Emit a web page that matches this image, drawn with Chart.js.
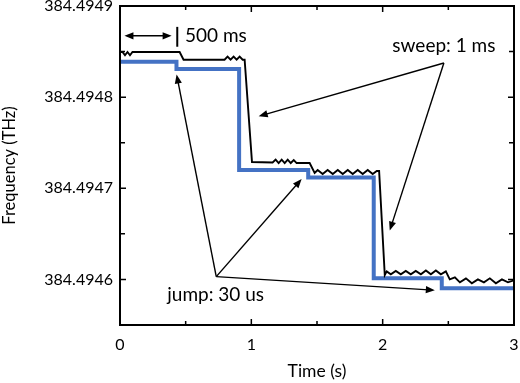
<!DOCTYPE html>
<html><head><meta charset="utf-8">
<script src="https://cdn.jsdelivr.net/npm/chart.js@4/dist/chart.umd.min.js"></script>
<style>html,body{margin:0;padding:0;background:#fff}#wrap{width:520px;height:383px}</style>
</head><body><div id="wrap"><canvas id="c" width="520" height="383"></canvas></div>
<script>
// Measured laser frequency (black trace)
const measTime = [0,0.019,0.038,0.057,0.076,0.095,0.454,0.484,0.796,0.819,0.842,0.865,0.888,0.911,0.934,0.949,
  1.005,1.162,1.185,1.208,1.231,1.254,1.277,1.300,1.323,1.345,1.444,1.482,1.505,1.543,1.581,1.620,1.658,1.696,
  1.734,1.772,1.810,1.848,1.886,1.924,1.955,1.973,2.016,2.031,2.062,2.100,2.138,2.176,2.214,2.252,2.291,2.329,
  2.367,2.405,2.443,2.481,2.511,2.550,2.588,2.634,2.679,2.725,2.771,2.816,2.862,2.908,2.954,3.0];
const measFreq = [384.4948495,384.4948495,384.4948460,384.4948495,384.4948460,384.4948495,384.4948495,384.4948411,
  384.4948411,384.4948444,384.4948411,384.4948444,384.4948411,384.4948444,384.4948411,384.4948411,
  384.4947288,384.4947283,384.4947315,384.4947277,384.4947315,384.4947277,384.4947315,384.4947277,384.4947310,
  384.4947277,384.4947277,384.4947168,384.4947201,384.4947157,384.4947201,384.4947157,384.4947201,384.4947157,
  384.4947201,384.4947157,384.4947201,384.4947157,384.4947201,384.4947157,384.4947190,384.4947190,
  384.4946048,384.4946088,384.4946056,384.4946094,384.4946056,384.4946094,384.4946056,384.4946094,384.4946056,
  384.4946099,384.4946056,384.4946099,384.4946056,384.4946088,384.4946001,384.4946023,384.4945968,384.4946012,
  384.4945958,384.4946001,384.4945968,384.4946012,384.4945958,384.4946001,384.4945968,384.4945990];
// Set-point frequency (blue steps): each level starts at targetTime[i]
const targetTime = [0,0.430,0.907,1.433,1.932,2.450,3.0];
const targetFreq = [384.4948389,384.4948310,384.4947201,384.4947119,384.4946012,384.4945903,384.4945903];

const xMajorTicks = [0,1,2,3];
const xMinorTicks = [0.5,1.5,2.5];
const yMajorTicks = [384.4946,384.4947,384.4948,384.4949];
const yMinorTicks = [384.49455,384.49465,384.49475,384.49485];
const xRange = [0,3];
const yRange = [384.49455,384.4949];
const xTitle = 'Time (s)';
const yTitle = 'Frequency (THz)';

// Annotations in data coordinates
const noteTexts = [
  {text:'500 ms', t:0.495, f:384.4948667, align:'left'},
  {text:'sweep: 1 ms', t:2.466, f:384.4948558, align:'center'},
  {text:'jump: 30 us', t:0.728, f:384.4945830, align:'center'}
];
const noteArrows = [
  {from:[2.466,384.4948375], to:[1.056,384.4947790]},
  {from:[2.466,384.4948375], to:[2.054,384.4946536]},
  {from:[0.733,384.4946031], to:[0.431,384.4948248]},
  {from:[0.733,384.4946031], to:[1.383,384.4947102]},
  {from:[0.733,384.4946031], to:[2.397,384.4945881]}
];
const scaleBar = {arrowFrom:[0.034,384.4948673], arrowTo:[0.393,384.4948673], barT:0.436, barTop:384.4948771, barBottom:384.4948553};

const FONT = 'Lato';
const toXY = (ts, fs) => ts.map((t,i) => ({x:t, y:fs[i]}));

function arrowHead(ctx, x1, y1, x2, y2){
  const ang = Math.atan2(y2-y1, x2-x1), L = 9, W = 3.6;
  ctx.beginPath();
  ctx.moveTo(x2, y2);
  ctx.lineTo(x2 - L*Math.cos(ang) + W*Math.sin(ang), y2 - L*Math.sin(ang) - W*Math.cos(ang));
  ctx.lineTo(x2 - L*Math.cos(ang) - W*Math.sin(ang), y2 - L*Math.sin(ang) + W*Math.cos(ang));
  ctx.closePath(); ctx.fill();
}
function arrowLine(ctx, x1, y1, x2, y2){
  const ang = Math.atan2(y2-y1, x2-x1);
  ctx.beginPath(); ctx.moveTo(x1,y1); ctx.lineTo(x2-6*Math.cos(ang), y2-6*Math.sin(ang)); ctx.stroke();
  arrowHead(ctx, x1, y1, x2, y2);
}

const decor = {
  id:'decor',
  afterDatasetsDraw(chart){
    const {ctx, chartArea:a, scales:{x, y}} = chart;
    ctx.save();
    ctx.strokeStyle = '#000'; ctx.fillStyle = '#000';
    ctx.lineWidth = 2;
    ctx.strokeRect(a.left, a.top, a.right-a.left, a.bottom-a.top);
    ctx.lineWidth = 1.5;
    ctx.beginPath();
    const xt = (arr, len) => arr.forEach(v => { const p = x.getPixelForValue(v);
      ctx.moveTo(p, a.bottom); ctx.lineTo(p, a.bottom-len); ctx.moveTo(p, a.top); ctx.lineTo(p, a.top+len); });
    const yt = (arr, len) => arr.forEach(v => { const p = y.getPixelForValue(v);
      ctx.moveTo(a.left, p); ctx.lineTo(a.left+len, p); ctx.moveTo(a.right, p); ctx.lineTo(a.right-len, p); });
    xt(xMajorTicks, 6); xt(xMinorTicks, 4); yt(yMajorTicks, 6); yt(yMinorTicks, 5);
    ctx.stroke();
    // arrows
    ctx.lineWidth = 1.4;
    noteArrows.forEach(ar => arrowLine(ctx, x.getPixelForValue(ar.from[0]), y.getPixelForValue(ar.from[1]),
      x.getPixelForValue(ar.to[0]), y.getPixelForValue(ar.to[1])));
    // scale bar
    const ax1 = x.getPixelForValue(scaleBar.arrowFrom[0]), ax2 = x.getPixelForValue(scaleBar.arrowTo[0]);
    const ay = y.getPixelForValue(scaleBar.arrowFrom[1]);
    ctx.beginPath(); ctx.moveTo(ax1+6, ay); ctx.lineTo(ax2-6, ay); ctx.stroke();
    arrowHead(ctx, ax2, ay, ax1, ay); arrowHead(ctx, ax1, ay, ax2, ay);
    ctx.lineWidth = 2;
    const bx = x.getPixelForValue(scaleBar.barT);
    ctx.beginPath(); ctx.moveTo(bx, y.getPixelForValue(scaleBar.barTop)); ctx.lineTo(bx, y.getPixelForValue(scaleBar.barBottom)); ctx.stroke();
    // texts
    ctx.font = '19px ' + FONT; ctx.textBaseline = 'middle';
    noteTexts.forEach(n => { ctx.textAlign = n.align; ctx.fillText(n.text, x.getPixelForValue(n.t), y.getPixelForValue(n.f)); });
    ctx.restore();
  }
};

new Chart(document.getElementById('c'), {
  type:'line',
  data:{ datasets:[
    {label:'set point', data:toXY(targetTime, targetFreq), borderColor:'#4472C4', borderWidth:4, stepped:'before', pointRadius:0, order:2},
    {label:'measured', data:toXY(measTime, measFreq), borderColor:'#000', borderWidth:1.9, tension:0, pointRadius:0, order:1}
  ]},
  options:{
    responsive:false, animation:false, devicePixelRatio:1,
    layout:{padding:{top:6, right:6, left:0, bottom:0}},
    plugins:{legend:{display:false}, tooltip:{enabled:false}},
    scales:{
      x:{type:'linear', min:xRange[0], max:xRange[1],
        afterBuildTicks:s => { s.ticks = xMajorTicks.map(v => ({value:v})); },
        afterFit:s => { s.height = 58; s.paddingLeft = 0; s.paddingRight = 0; },
        grid:{display:false, drawTicks:false}, border:{display:false},
        ticks:{color:'#000', font:{family:FONT, size:16}, padding:10, maxRotation:0, callback:v => String(v)},
        title:{display:true, text:xTitle, color:'#000', font:{family:FONT, size:17.5}, padding:{top:0, bottom:1}}
      },
      y:{type:'linear', min:yRange[0], max:yRange[1],
        afterBuildTicks:s => { s.ticks = yMajorTicks.map(v => ({value:v})); },
        afterFit:s => { s.width = 120; s.paddingTop = 0; s.paddingBottom = 0; },
        grid:{display:false, drawTicks:false}, border:{display:false},
        ticks:{color:'#000', font:{family:FONT, size:16}, padding:7, callback:v => Number(v).toFixed(4)},
        title:{display:true, text:yTitle, color:'#000', font:{family:FONT, size:16.5}, padding:{top:0, bottom:0}}
      }
    }
  },
  plugins:[decor]
});
</script></body></html>
